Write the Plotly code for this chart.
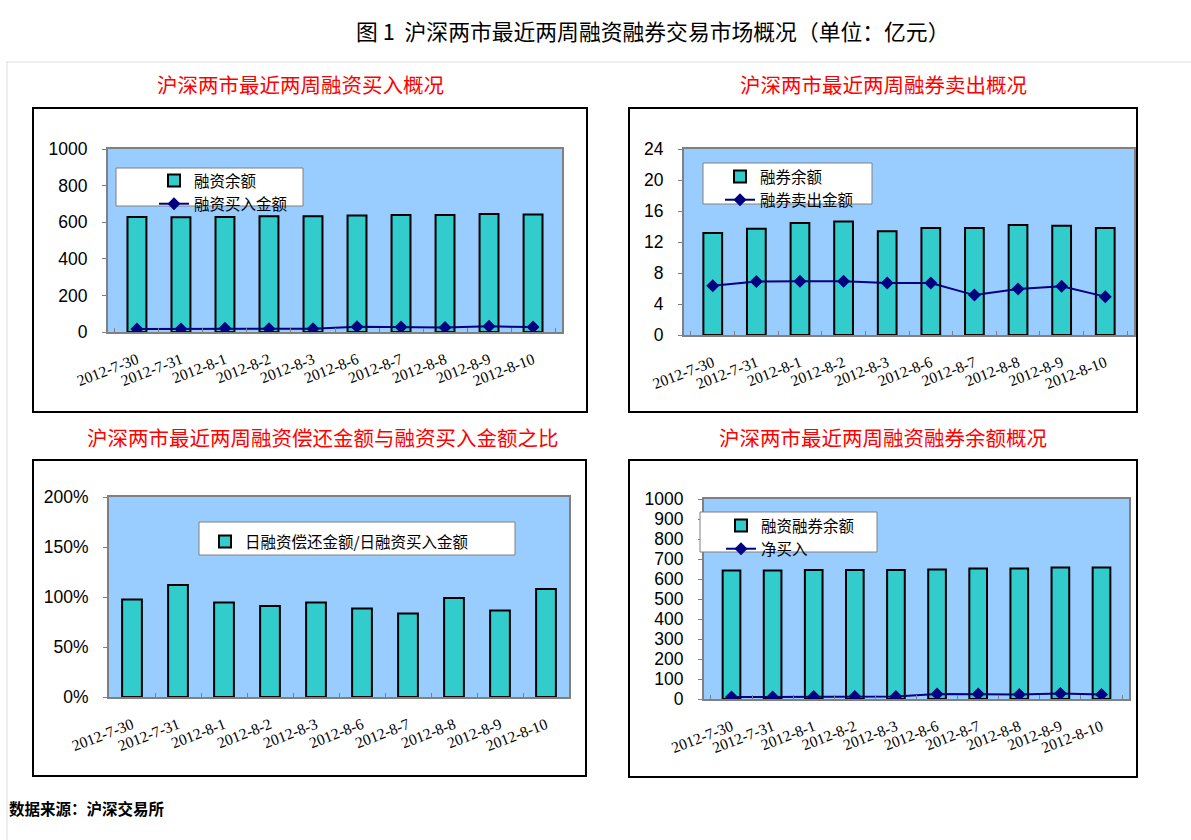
import plotly.graph_objects as go

# ---------------- data ----------------
dates = ["2012-7-30", "2012-7-31", "2012-8-1", "2012-8-2", "2012-8-3",
         "2012-8-6", "2012-8-7", "2012-8-8", "2012-8-9", "2012-8-10"]
margin_balance = [629, 627, 629, 633, 633, 636, 640, 640, 645, 642]       # 融资余额
margin_buy = [16, 16, 20, 18, 18, 29, 27, 25, 31, 27]                      # 融资买入金额
short_balance = [13.15, 13.7, 14.45, 14.65, 13.4, 13.8, 13.8, 14.2, 14.1, 13.8]  # 融券余额
short_sell = [6.35, 6.9, 6.95, 6.95, 6.7, 6.7, 5.15, 5.95, 6.3, 4.95]      # 融券卖出金额
repay_ratio = [0.975, 1.12, 0.945, 0.91, 0.945, 0.885, 0.835, 0.99, 0.865, 1.08]
total_balance = [642, 642, 645, 645, 645, 648, 653, 653, 658, 657]         # 融资融券余额
net_buy = [10, 10, 13, 13, 13, 25, 25, 22, 27, 23]                         # 净买入

W, H = 1191, 840


def px(x):
    return x / W


def py(y):
    return 1 - y / H


BAR_COLOR = "#33CCCC"
LINE_COLOR = "#000080"
PLOT_BG = "#99CCFF"
CJK = "Noto Sans CJK SC"

fig = go.Figure()


def add_bar(name, vals, n, legend):
    fig.add_trace(go.Bar(
        x=dates, y=vals, name=name, width=0.43,
        marker=dict(color=BAR_COLOR, line=dict(color="black", width=2)),
        xaxis="x" if n == 1 else f"x{n}", yaxis="y" if n == 1 else f"y{n}",
        legend=legend))


def add_line(name, vals, n, legend):
    fig.add_trace(go.Scatter(
        x=dates, y=vals, name=name, mode="lines+markers",
        line=dict(color=LINE_COLOR, width=2),
        marker=dict(symbol="diamond", size=10, color=LINE_COLOR),
        xaxis="x" if n == 1 else f"x{n}", yaxis="y" if n == 1 else f"y{n}",
        legend=legend))


add_bar("融资余额", margin_balance, 1, "legend")
add_line("融资买入金额", margin_buy, 1, "legend")
add_bar("融券余额", short_balance, 2, "legend2")
add_line("融券卖出金额", short_sell, 2, "legend2")
add_bar("日融资偿还金额/日融资买入金额", repay_ratio, 3, "legend3")
add_bar("融资融券余额", total_balance, 4, "legend4")
add_line("净买入", net_buy, 4, "legend4")

xtickfont = dict(family="Liberation Serif", size=15.5, color="black")
ytickfont = dict(family="Liberation Sans, Arial", size=17.5, color="black")


def xax(x0, x1, anchor):
    return dict(domain=[px(x0), px(x1)], anchor=anchor, type="category",
                tickangle=-21, tickfont=xtickfont, showline=True,
                linecolor="#808080", linewidth=2, mirror=True,
                ticks="inside", tickson="boundaries", ticklen=4,
                tickcolor="#808080", showgrid=False, zeroline=False,
                ticklabelstandoff=11,
                fixedrange=True, automargin=False)


def yax(y0, y1, anchor, rng, dtick, fmt=None):
    d = dict(domain=[py(y0), py(y1)], anchor=anchor, range=rng, dtick=dtick,
             tickfont=ytickfont, showline=True, linecolor="#808080",
             linewidth=2, mirror=True, ticks="outside", ticklen=4,
             tickcolor="#808080", showgrid=False, zeroline=False,
             ticklabelstandoff=11,
             fixedrange=True, automargin=False)
    if fmt:
        d["tickformat"] = fmt
    return d


legend_common = dict(bgcolor="rgba(0,0,0,0)", borderwidth=0,
                     font=dict(family=CJK, size=15.5, color="black"),
                     xanchor="left", yanchor="top", tracegroupgap=0,
                     itemclick=False, itemdoubleclick=False)

fig.update_layout(
    width=W, height=H,
    margin=dict(l=0, r=0, t=0, b=0, pad=0, autoexpand=False),
    paper_bgcolor="white", plot_bgcolor=PLOT_BG,
    showlegend=True, barmode="overlay",
    xaxis=xax(108, 562, "y"),
    yaxis=yax(332, 149, "x", [0, 1000], 200),
    xaxis2=xax(684, 1134, "y2"),
    yaxis2=yax(335, 149, "x2", [0, 24], 4),
    xaxis3=xax(109, 569, "y3"),
    yaxis3=yax(697, 497, "x3", [0, 2], 0.5, ".0%"),
    xaxis4=xax(704, 1129, "y4"),
    yaxis4=yax(699, 499, "x4", [0, 1000], 100),
    legend=dict(x=px(154), y=py(164), **legend_common),
    legend2=dict(x=px(720), y=py(160), **legend_common),
    legend3=dict(x=px(205), y=py(525), **legend_common),
    legend4=dict(x=px(721), y=py(509), **legend_common),
)

shapes = []
# outer light frame
shapes.append(dict(type="line", xref="paper", yref="paper", x0=px(6), x1=1,
                   y0=py(62), y1=py(62), line=dict(color="#DDDDDD", width=1)))
shapes.append(dict(type="line", xref="paper", yref="paper", x0=px(7), x1=px(7),
                   y0=py(62), y1=0, line=dict(color="#DDDDDD", width=1)))
# panel boxes
for (x0, y0, x1, y1) in [(33, 108, 587, 412), (629, 108, 1137, 412),
                         (33, 460, 586, 776), (629, 460, 1137, 777)]:
    shapes.append(dict(type="rect", xref="paper", yref="paper",
                       x0=px(x0), x1=px(x1), y0=py(y0), y1=py(y1),
                       line=dict(color="black", width=2), layer="below"))
# legend boxes
for (x0, y0, x1, y1) in [(116, 168, 303, 206), (703, 163, 872, 204),
                         (199, 522, 515, 555), (700, 512, 877, 552)]:
    shapes.append(dict(type="rect", xref="paper", yref="paper",
                       x0=px(x0), x1=px(x1), y0=py(y0), y1=py(y1),
                       fillcolor="white", line=dict(color="#808080", width=1),
                       layer="above"))
fig.update_layout(shapes=shapes)

annos = [
    dict(text="图 1  沪深两市最近两周融资融券交易市场概况（单位：亿元）", x=px(652), y=py(31),
         font=dict(family=CJK, size=21.8, color="black")),
    dict(text="沪深两市最近两周融资买入概况", x=px(300), y=py(84),
         font=dict(family=CJK, size=20.5, color="#FF0000")),
    dict(text="沪深两市最近两周融券卖出概况", x=px(883), y=py(84),
         font=dict(family=CJK, size=20.5, color="#FF0000")),
    dict(text="沪深两市最近两周融资偿还金额与融资买入金额之比", x=px(323), y=py(437),
         font=dict(family=CJK, size=20.5, color="#FF0000")),
    dict(text="沪深两市最近两周融资融券余额概况", x=px(883), y=py(437),
         font=dict(family=CJK, size=20.5, color="#FF0000")),
    dict(text="<b>数据来源：沪深交易所</b>", x=px(7), y=py(808), xanchor="left",
         font=dict(family=CJK, size=15.5, color="black")),
]
for a in annos:
    a.setdefault("xanchor", "center")
    fig.add_annotation(xref="paper", yref="paper", showarrow=False,
                       yanchor="middle", **a)

fig.write_html("out.html")
